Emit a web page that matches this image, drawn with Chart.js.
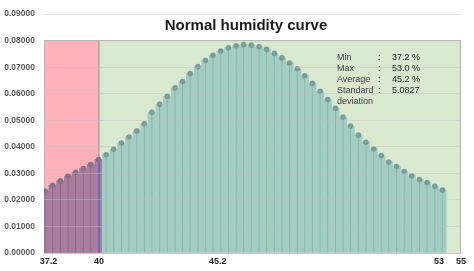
<!DOCTYPE html>
<html>
<head>
<meta charset="utf-8">
<script src="https://cdn.jsdelivr.net/npm/chart.js@4.4.1/dist/chart.umd.min.js"></script>
<style>
  html, body { margin: 0; padding: 0; background: #fff; }
  #wrap { position: relative; width: 474px; height: 271px; font-family: "Liberation Sans", Arial, sans-serif; }
  #c { position: absolute; left: 0; top: 0; }
  .title { position: absolute; left: 146px; width: 200px; top: 17px; text-align: center;
           font-size: 15px; line-height: 15px; font-weight: bold; color: #1a1a1a; }
  .stat { position: absolute; font-size: 9px; line-height: 11px; color: #404040; white-space: nowrap; }
</style>
</head>
<body>
<div id="wrap">
  <canvas id="c" width="474" height="271"></canvas>
  <div class="title">Normal humidity curve</div>
  <div id="stats"></div>
</div>
<script>
// humidity steps along the curve (%), and the curve height
const humidity = [
  37.20, 37.50, 37.81, 38.12, 38.42, 38.72, 39.02, 39.33, 39.63, 39.93,
  40.24, 40.54, 40.85, 41.15, 41.45, 41.76, 42.06, 42.37, 42.67, 42.97,
  43.28, 43.58, 43.88, 44.19, 44.49, 44.80, 45.10, 45.40, 45.71, 46.01,
  46.32, 46.62, 46.92, 47.23, 47.53, 47.83, 48.14, 48.44, 48.75, 49.05,
  49.35, 49.66, 49.96, 50.27, 50.57, 50.87, 51.18, 51.48, 51.78, 52.09,
  52.39, 52.70, 53.00
];
const density = [
  0.0233, 0.0255, 0.0272, 0.0290, 0.0304, 0.0318, 0.0333, 0.0352, 0.0370, 0.0391,
  0.0414, 0.0437, 0.0460, 0.0487, 0.0530, 0.0560, 0.0590, 0.0622, 0.0646, 0.0676,
  0.0702, 0.0725, 0.0745, 0.0761, 0.0773, 0.0781, 0.0785, 0.0783, 0.0777, 0.0767,
  0.0752, 0.0735, 0.0716, 0.0694, 0.0668, 0.0639, 0.0609, 0.0578, 0.0545, 0.0512,
  0.0478, 0.0444, 0.0417, 0.0392, 0.0367, 0.0343, 0.0326, 0.0307, 0.0291, 0.0277,
  0.0265, 0.0251, 0.0237
];

// red (too dry) and green zones behind the curve
const pinkZone = [37.16, 39.35];
const greenZone = [39.35, 53.74];
const zoneTop = 0.08;
const markerHeight = 0.0352;

const xTickLabels = ["37.2", "40", "45.2", "53", "55"];
const xTickAt = [37.34, 39.35, 44.07, 52.87, 53.74];
const yTickValues = [0, 0.01, 0.02, 0.03, 0.04, 0.05, 0.06, 0.07, 0.08, 0.09];

const statLabels = ["Min", "Max", "Average", "Standard", "deviation"];
const statValues = ["37.2 %", "53.0 %", "45.2 %", "5.0827", ""];

const stats = document.getElementById("stats");
statLabels.forEach((lab, i) => {
  const top = 52 + i * 11;
  const a = document.createElement("div");
  a.className = "stat"; a.style.left = "337px"; a.style.top = top + "px"; a.textContent = lab;
  stats.appendChild(a);
  if (statValues[i]) {
    const c = document.createElement("div");
    c.className = "stat"; c.style.left = "378px"; c.style.top = top + "px"; c.textContent = ":";
    stats.appendChild(c);
    const v = document.createElement("div");
    v.className = "stat"; v.style.left = "392px"; v.style.top = top + "px"; v.style.color = "#262626";
    v.textContent = statValues[i];
    stats.appendChild(v);
  }
});

const pts = humidity.map((h, i) => ({ x: h, y: density[i] }));
const zoneShape = (z) => [
  { x: z[0], y: 0 }, { x: z[0], y: zoneTop }, { x: z[1], y: zoneTop }, { x: z[1], y: 0 }
];
const inPink = (c) => c.raw && c.raw.x < pinkZone[1];

const FONT = "'Liberation Sans', Arial, sans-serif";

new Chart(document.getElementById("c"), {
  type: "bar",
  data: {
    datasets: [
      { type: "line", data: zoneShape(pinkZone), fill: "origin", backgroundColor: "#ffb1ba",
        borderColor: "#a8a8a8", borderWidth: 1, pointRadius: 0, tension: 0, order: 10 },
      { type: "line", data: zoneShape(greenZone), fill: "origin", backgroundColor: "#d9e9d0",
        borderColor: "#a8a8a8", borderWidth: 1, pointRadius: 0, tension: 0, order: 9 },
      { data: pts, grouped: false, barPercentage: 1, categoryPercentage: 1, borderWidth: 0,
        backgroundColor: (c) => inPink(c) ? "#a97c9e" : "#a3cdc3", order: 6 },
      { data: pts, grouped: false, maxBarThickness: 1, borderWidth: 0,
        backgroundColor: (c) => inPink(c) ? "#8f6a88" : "#88b8ad", order: 5 },
      { type: "line", data: [{ x: pinkZone[1], y: 0 }, { x: pinkZone[1], y: markerHeight }],
        borderColor: "#4f74c4", borderWidth: 1.5, pointRadius: 0, order: 3 },
      { type: "line", data: pts, showLine: false, pointRadius: 2.8, pointBorderWidth: 0,
        pointBackgroundColor: (c) => inPink(c) ? "#86728a" : "#7a9f9a", order: 1 }
    ]
  },
  options: {
    responsive: false,
    animation: false,
    devicePixelRatio: 1,
    layout: { padding: { top: 9, right: 13, bottom: 0, left: 0 } },
    plugins: { legend: { display: false }, tooltip: { enabled: false } },
    scales: {
      x: {
        type: "linear", min: pinkZone[0], max: greenZone[1], offset: false,
        grid: { display: false, drawTicks: false },
        border: { display: true, color: "#d4d4d4", width: 1 },
        afterBuildTicks: (s) => { s.ticks = xTickAt.map((v) => ({ value: v })); },
        afterFit: (s) => { s.height = 18; },
        ticks: {
          autoSkip: false, maxRotation: 0, padding: 3, color: "#262626",
          font: { size: 9, weight: "bold", family: FONT },
          callback: (v, i) => xTickLabels[i]
        }
      },
      y: {
        min: 0, max: 0.09,
        grid: { color: "rgba(190,190,190,0.45)", drawTicks: false, z: 1 },
        border: { display: false },
        afterBuildTicks: (s) => { s.ticks = yTickValues.map((v) => ({ value: v })); },
        afterFit: (s) => { s.width = 44; },
        ticks: {
          padding: 9, color: "#595959",
          font: { size: 8.5, weight: "bold", family: FONT },
          callback: (v) => Number(v).toFixed(5)
        }
      }
    }
  }
});
</script>
</body>
</html>
